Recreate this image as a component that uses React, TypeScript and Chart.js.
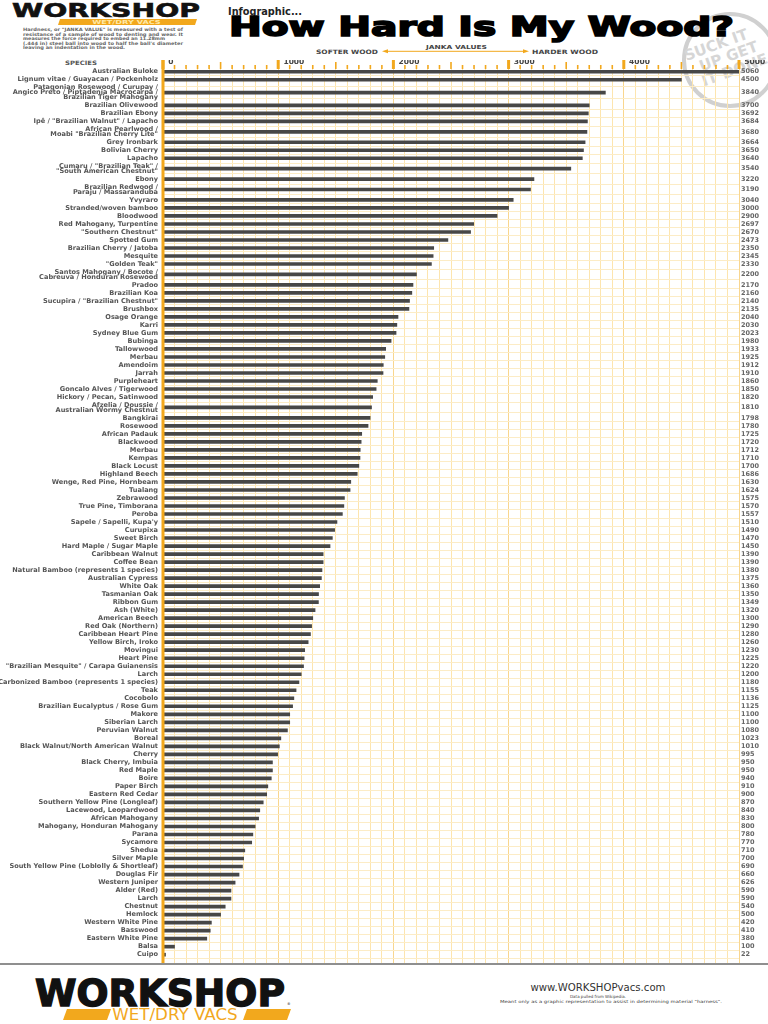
import React, { useEffect, useRef } from 'react';
import { Chart, registerables } from 'chart.js';

Chart.register(...registerables);

const SPECIES: (string | string[])[] = [
  'Australian Buloke',
  'Lignum vitae / Guayacan / Pockenholz',
  ['Patagonian Rosewood / Curupay /', 'Angico Preto / Piptadenia Macrocarpa /', 'Brazilian Tiger Mahogany'],
  'Brazilian Olivewood',
  'Brazilian Ebony',
  'Ipê / "Brazilian Walnut" / Lapacho',
  ['African Pearlwood /', 'Moabi "Brazilian Cherry Lite"'],
  'Grey Ironbark',
  'Bolivian Cherry',
  'Lapacho',
  ['Cumaru / "Brazilian Teak" /', '"South American Chestnut"'],
  'Ebony',
  ['Brazilian Redwood /', 'Paraju / Massaranduba'],
  'Yvyraro',
  'Stranded/woven bamboo',
  'Bloodwood',
  'Red Mahogany, Turpentine',
  '"Southern Chestnut"',
  'Spotted Gum',
  'Brazilian Cherry / Jatoba',
  'Mesquite',
  '"Golden Teak"',
  ['Santos Mahogany / Bocote /', 'Cabreuva / Honduran Rosewood'],
  'Pradoo',
  'Brazilian Koa',
  'Sucupira / "Brazilian Chestnut"',
  'Brushbox',
  'Osage Orange',
  'Karri',
  'Sydney Blue Gum',
  'Bubinga',
  'Tallowwood',
  'Merbau',
  'Amendoim',
  'Jarrah',
  'Purpleheart',
  'Goncalo Alves / Tigerwood',
  'Hickory / Pecan, Satinwood',
  ['Afzelia / Doussie /', 'Australian Wormy Chestnut'],
  'Bangkirai',
  'Rosewood',
  'African Padauk',
  'Blackwood',
  'Merbau',
  'Kempas',
  'Black Locust',
  'Highland Beech',
  'Wenge, Red Pine, Hornbeam',
  'Tualang',
  'Zebrawood',
  'True Pine, Timborana',
  'Peroba',
  "Sapele / Sapelli, Kupa'y",
  'Curupixa',
  'Sweet Birch',
  'Hard Maple / Sugar Maple',
  'Caribbean Walnut',
  'Coffee Bean',
  'Natural Bamboo (represents 1 species)',
  'Australian Cypress',
  'White Oak',
  'Tasmanian Oak',
  'Ribbon Gum',
  'Ash (White)',
  'American Beech',
  'Red Oak (Northern)',
  'Caribbean Heart Pine',
  'Yellow Birch, Iroko',
  'Movingui',
  'Heart Pine',
  '"Brazilian Mesquite" / Carapa Guianensis',
  'Larch',
  'Carbonized Bamboo (represents 1 species)',
  'Teak',
  'Cocobolo',
  'Brazilian Eucalyptus / Rose Gum',
  'Makore',
  'Siberian Larch',
  'Peruvian Walnut',
  'Boreal',
  'Black Walnut/North American Walnut',
  'Cherry',
  'Black Cherry, Imbuia',
  'Red Maple',
  'Boire',
  'Paper Birch',
  'Eastern Red Cedar',
  'Southern Yellow Pine (Longleaf)',
  'Lacewood, Leopardwood',
  'African Mahogany',
  'Mahogany, Honduran Mahogany',
  'Parana',
  'Sycamore',
  'Shedua',
  'Silver Maple',
  'South Yellow Pine (Loblolly & Shortleaf)',
  'Douglas Fir',
  'Western Juniper',
  'Alder (Red)',
  'Larch',
  'Chestnut',
  'Hemlock',
  'Western White Pine',
  'Basswood',
  'Eastern White Pine',
  'Balsa',
  'Cuipo',
];

const HARDNESS: number[] = [
  5060, 4500, 3840, 3700, 3692, 3684, 3680, 3664, 3650, 3640,
  3540, 3220, 3190, 3040, 3000, 2900, 2697, 2670, 2473, 2350,
  2345, 2330, 2200, 2170, 2160, 2140, 2135, 2040, 2030, 2023,
  1980, 1933, 1925, 1912, 1910, 1860, 1850, 1820, 1810, 1798,
  1780, 1725, 1720, 1712, 1710, 1700, 1686, 1630, 1624, 1575,
  1570, 1557, 1510, 1490, 1470, 1450, 1390, 1390, 1380, 1375,
  1360, 1350, 1349, 1320, 1300, 1290, 1280, 1260, 1230, 1225,
  1220, 1200, 1180, 1155, 1136, 1125, 1100, 1100, 1080, 1023,
  1010, 995, 950, 950, 940, 910, 900, 870, 840, 830,
  800, 780, 770, 710, 700, 690, 660, 626, 590, 590,
  540, 500, 420, 410, 380, 100, 22,
];

const X_MIN = 0;
const X_MAX = 5000;
const X_MINOR_STEP = 100;
const X_MID_STEP = 500;
const X_LABEL_STEP = 1000;

// extra vertical room per additional label line (in row units)
const EXTRA_PER_LINE = 0.6;
const lineCount = (s: string | string[]) => (Array.isArray(s) ? s.length : 1);
const ROW_POS: number[] = (() => {
  const out: number[] = [];
  let p = 0;
  SPECIES.forEach((s, i) => {
    if (i > 0) {
      p += 1 + ((lineCount(SPECIES[i - 1]) - 1) * EXTRA_PER_LINE) / 2 + ((lineCount(s) - 1) * EXTRA_PER_LINE) / 2;
    }
    out.push(p);
  });
  return out;
})();
const Y_MIN = -0.34;
const Y_MAX = ROW_POS[ROW_POS.length - 1] + 1.04;

const ORANGE = '#f2a81d';

const decorPlugin = {
  id: 'decor',
  afterDatasetsDraw(chart: any) {
    const { ctx, chartArea, scales } = chart;
    const x = scales.x;
    ctx.save();
    ctx.fillStyle = ORANGE;
    for (let v = X_MIN; v <= X_MAX; v += X_MINOR_STEP) {
      const px = x.getPixelForValue(v);
      if (v % X_LABEL_STEP === 0) ctx.fillRect(px - 1.5, chartArea.top - 9, 3, 9);
      else if (v % X_MID_STEP === 0) ctx.fillRect(px - 0.8, chartArea.top - 7, 1.6, 7);
      else ctx.fillRect(px - 0.8, chartArea.top - 4, 1.6, 4);
    }
    ctx.fillRect(chartArea.left - 1.5, chartArea.top - 9, 3, chartArea.bottom - chartArea.top + 9);
    ctx.restore();
  },
};

function Logo({ x, y, w, size, barY, barH, barX1, barX2, small, sw }: any) {
  return (
    <g>
      <text x={x} y={y} fontFamily="DejaVu Sans" fontWeight="bold" fontSize={size} textLength={w} lengthAdjust="spacingAndGlyphs" fill="#111" stroke="#111" strokeWidth={sw}>WORKSHOP</text>
      {small ? (
        <g>
          <polygon points={`${barX1 + 2},${barY} ${barX2 + 2},${barY} ${barX2},${barY + barH} ${barX1},${barY + barH}`} fill={ORANGE} />
          <text x={(barX1 + barX2) / 2} y={barY + barH - 1} textAnchor="middle" fontFamily="DejaVu Sans" fontWeight="bold" fontSize={barH - 0.5} textLength={(barX2 - barX1) * 0.5} lengthAdjust="spacingAndGlyphs" fill="#ffe9a8">WET/DRY VACS</text>
        </g>
      ) : (
        <g>
          <polygon points={`${barX1 + 4},${barY} ${barX1 + 48},${barY} ${barX1 + 44},${barY + barH} ${barX1},${barY + barH}`} fill={ORANGE} />
          <polygon points={`${barX2 - 40},${barY} ${barX2 + 4},${barY} ${barX2},${barY + barH} ${barX2 - 44},${barY + barH}`} fill={ORANGE} />
          <text x={(barX1 + barX2) / 2} y={barY + barH} textAnchor="middle" fontFamily="DejaVu Sans" fontSize={barH + 5} textLength={(barX2 - barX1) * 0.56} lengthAdjust="spacingAndGlyphs" fill={ORANGE}>WET/DRY VACS</text>
        </g>
      )}
    </g>
  );
}

export default function App() {
  const canvasRef = useRef<HTMLCanvasElement | null>(null);

  useEffect(() => {
    if (!canvasRef.current) return;
    Chart.defaults.font.family = "'DejaVu Sans', sans-serif";
    const chart = new Chart(canvasRef.current, {
      type: 'bar',
      data: {
        datasets: [
          {
            data: HARDNESS.map((v, i) => ({ x: v, y: ROW_POS[i] })),
            backgroundColor: '#474747',
            borderWidth: 0,
            barThickness: 3,
            xAxisID: 'x',
            yAxisID: 'y',
          } as any,
        ],
      },
      options: {
        indexAxis: 'y',
        animation: false,
        responsive: false,
        layout: { padding: { top: 60, bottom: 61, left: 0, right: 0 } },
        plugins: { legend: { display: false }, tooltip: { enabled: false } },
        scales: {
          x: {
            type: 'linear',
            position: 'top',
            offset: false,
            min: X_MIN,
            max: X_MAX,
            afterFit: (s: any) => { s.height = 9; },
            ticks: {
              stepSize: X_MINOR_STEP,
              autoSkip: false,
              maxRotation: 0,
              align: 'start',
              padding: 2,
              color: '#444',
              font: { size: 7.5, weight: 'bold' },
              callback: (v: any) => (Number(v) % X_LABEL_STEP === 0 ? '  ' + v : ''),
            },
            grid: {
              drawTicks: false,
              offset: false,
              color: (c: any) => (c.tick && c.tick.value % X_LABEL_STEP === 0 ? '#f9d68e' : '#fde5ae'),
              lineWidth: 1,
            },
            border: { display: false },
          },
          y: {
            type: 'linear',
            position: 'left',
            reverse: true,
            offset: false,
            min: Y_MIN,
            max: Y_MAX,
            afterBuildTicks: (s: any) => { s.ticks = ROW_POS.map((v) => ({ value: v })); },
            afterFit: (s: any) => { s.width = 163; },
            ticks: {
              autoSkip: false,
              padding: 5,
              color: '#555',
              font: { size: 6.6, weight: 'bold', lineHeight: 0.79 },
              callback: (_v: any, i: number) => SPECIES[i] as any,
            },
            grid: { offset: true, drawTicks: false, color: '#fcecc6' },
            border: { display: false },
          },
          y2: {
            type: 'linear',
            position: 'right',
            reverse: true,
            offset: false,
            min: Y_MIN,
            max: Y_MAX,
            afterBuildTicks: (s: any) => { s.ticks = ROW_POS.map((v) => ({ value: v })); },
            afterFit: (s: any) => { s.width = 29; },
            ticks: {
              autoSkip: false,
              padding: 2,
              color: '#666',
              font: { size: 6.5, weight: 'bold' },
              callback: (_v: any, i: number) => String(HARDNESS[i]),
            },
            grid: { display: false, drawTicks: false },
            border: { display: false },
          },
        },
      } as any,
      plugins: [decorPlugin],
    });
    return () => chart.destroy();
  }, []);

  const desc = [
    ['Hardness, or "JANKA VALUE" is measured with a test of', 160],
    ['resistance of a sample of wood to denting and wear. It', 160],
    ['measures the force required to embed an 11.28mm', 142],
    ["(.444 in) steel ball into wood to half the ball's diameter", 160],
    ['leaving an indentation in the wood.', 102],
  ];

  return (
    <div style={{ position: 'absolute', left: 0, top: 0, width: 768, height: 1024, background: '#fff', overflow: 'hidden' }}>
      <svg width={768} height={1024} style={{ position: 'absolute', left: 0, top: 0 }}>
        {/* stamp */}
        <g>
          <circle cx={730} cy={60} r={46} fill="none" stroke="#d0d0d0" strokeWidth={4} />
          <g transform="rotate(-20 730 60)" fontFamily="DejaVu Sans" fontWeight="bold" fill="#d6d6d6" fontSize={15}>
            <text x={722} y={46} textAnchor="middle">SUCK IT</text>
            <text x={730} y={61} textAnchor="middle">UP GET</text>
            <text x={734} y={76} textAnchor="middle">IT DONE.</text>
          </g>
        </g>
        <Logo x={12} y={17} w={188} size={19} sw={0.6} barY={19} barH={6} barX1={58} barX2={195} small />
        {desc.map(([t, w], i) => (
          <text key={i} x={23} y={31 + i * 4.6} fontFamily="DejaVu Sans" fontWeight="bold" fontSize={4.6} fill="#666" textLength={w as number} lengthAdjust="spacingAndGlyphs">{t}</text>
        ))}
        <text x={228} y={15} fontFamily="DejaVu Sans" fontWeight="bold" fontSize={11} fill="#222" textLength={74} lengthAdjust="spacingAndGlyphs">Infographic...</text>
        <text x={229} y={36} fontFamily="DejaVu Sans" fontWeight="bold" fontSize={27} fill="#000" stroke="#000" strokeWidth={1.6} textLength={505} lengthAdjust="spacingAndGlyphs">How Hard Is My Wood?</text>
        <text x={316} y={53.5} fontFamily="DejaVu Sans" fontWeight="bold" fontSize={6} fill="#444" textLength={62} lengthAdjust="spacingAndGlyphs">SOFTER WOOD</text>
        <text x={426} y={49} fontFamily="DejaVu Sans" fontWeight="bold" fontSize={5.5} fill="#444" textLength={61} lengthAdjust="spacingAndGlyphs">JANKA VALUES</text>
        <text x={532} y={53.5} fontFamily="DejaVu Sans" fontWeight="bold" fontSize={6} fill="#444" textLength={66} lengthAdjust="spacingAndGlyphs">HARDER WOOD</text>
        <line x1={386} y1={51.3} x2={525} y2={51.3} stroke={ORANGE} strokeWidth={1} />
        <polygon points="382,51.3 388,49.3 388,53.3" fill={ORANGE} />
        <polygon points="529,51.3 523,49.3 523,53.3" fill={ORANGE} />
        <text x={65} y={65} fontFamily="DejaVu Sans" fontWeight="bold" fontSize={6} fill="#555" textLength={32} lengthAdjust="spacingAndGlyphs">SPECIES</text>
        {/* footer */}
        <line x1={0} y1={964} x2={768} y2={964} stroke="#8f8f8f" strokeWidth={2} />
        <Logo x={35} y={1006} w={250} size={38} sw={1.4} barY={1009} barH={11} barX1={63} barX2={287} />
        <text x={287} y={1005} fontFamily="DejaVu Sans" fontSize={3.5} fill="#333">®</text>
        <text x={598} y={991} textAnchor="middle" fontFamily="DejaVu Sans" fontSize={11} fill="#333" textLength={135} lengthAdjust="spacingAndGlyphs">www.WORKSHOPvacs.com</text>
        <text x={598} y={997.5} textAnchor="middle" fontFamily="DejaVu Sans" fontSize={4.2} fill="#444" textLength={56} lengthAdjust="spacingAndGlyphs">Data pulled from Wikipedia.</text>
        <text x={611} y={1003} textAnchor="middle" fontFamily="DejaVu Sans" fontSize={4.2} fill="#444" textLength={222} lengthAdjust="spacingAndGlyphs">Meant only as a graphic representation to assist in determining material "harness".</text>
      </svg>
      <canvas ref={canvasRef} width={768} height={1024} style={{ position: 'absolute', left: 0, top: 0 }} />
    </div>
  );
}
